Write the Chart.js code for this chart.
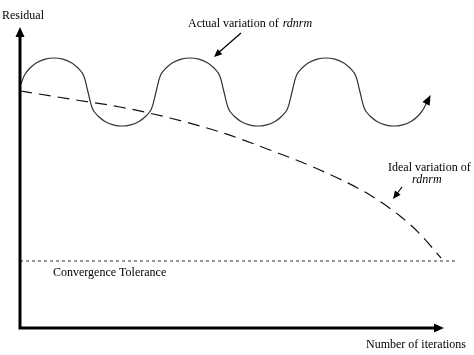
<!DOCTYPE html>
<html><head><meta charset="utf-8">
<script src="https://cdn.jsdelivr.net/npm/chart.js@4/dist/chart.umd.min.js"></script>
<style>html,body{margin:0;padding:0;background:#fff}canvas{display:block}</style>
</head><body>
<canvas id="c" width="474" height="355"></canvas>
<script>
// Data units: x = iterations (arbitrary), y = residual (arbitrary)
const waveX = [1,4.6,10,17,25.2,34,42.8,51,58,63.4,68,
  72.6,78,85,93.2,102,110.8,119,126,131.4,136,
  140.6,146,153,161.2,170,178.8,187,194,199.4,204,
  208.6,214,221,229.2,238,246.8,255,262,267.4,272,
  276.6,282,289,297.2,306,314.8,323,330,335.4,340,
  344.6,350,357,365.2,374,382.8,391,398,403.4,406.5];
const waveY = [244,253,260,265.4,268.8,270,268.8,265.4,260,253,236,
  219,212,206.6,203.2,202,203.2,206.6,212,219,236,
  253,260,265.4,268.8,270,268.8,265.4,260,253,236,
  219,212,206.6,203.2,202,203.2,206.6,212,219,236,
  253,260,265.4,268.8,270,268.8,265.4,260,253,236,
  219,212,206.6,203.2,202,203.2,206.6,212,219,225];
const idealX = [0,50,100,150,200,250,300,350,380,400,421];
const idealY = [237,229,221,210,196,178,158,133,112,94,70];
const tolX = [0,438];
const tolY = [67,67];
const axisTitles = ['Residual','Number of iterations'];
const labels = ['Actual variation of ','rdnrm','Ideal variation of','Convergence Tolerance'];

const toPts = (xs, ys) => xs.map((x,i)=>({x, y: ys[i]}));

const SERIF = '"Liberation Serif", "DejaVu Serif", serif';

function tri(ctx, tx, ty, dx, dy, len, half){
  const L = Math.hypot(dx,dy); dx/=L; dy/=L;
  const bx = tx - dx*len, by = ty - dy*len;
  ctx.beginPath();
  ctx.moveTo(tx,ty);
  ctx.lineTo(bx - dy*half, by + dx*half);
  ctx.lineTo(bx + dy*half, by - dx*half);
  ctx.closePath(); ctx.fill();
}

const deco = {
  id: 'deco',
  afterDatasetsDraw(chart){
    const ctx = chart.ctx;
    const xs = chart.scales.x, ys = chart.scales.y;
    const X = v => xs.getPixelForValue(v), Y = v => ys.getPixelForValue(v);
    ctx.save();
    ctx.fillStyle = '#000'; ctx.strokeStyle = '#000';
    // axes
    ctx.lineWidth = 3;
    ctx.beginPath();
    ctx.moveTo(X(0), Y(0)+1.5); ctx.lineTo(X(0), Y(292));
    ctx.moveTo(X(0)-1.5, Y(0)); ctx.lineTo(X(414), Y(0));
    ctx.stroke();
    tri(ctx, X(0), Y(301), 0, -1, 10, 4.5);
    tri(ctx, X(424), Y(0), 1, 0, 10, 4.5);
    // wave arrowhead
    const n = waveX.length;
    const ex = X(waveX[n-1]), ey = Y(waveY[n-1]);
    const px = X(waveX[n-2]), py = Y(waveY[n-2]);
    const dx = ex-px, dy = ey-py, L = Math.hypot(dx,dy);
    tri(ctx, ex + dx/L*9, ey + dy/L*9, dx, dy, 10, 4);
    // annotation arrows
    ctx.lineWidth = 1.2;
    ctx.beginPath();
    ctx.moveTo(X(221), Y(295)); ctx.lineTo(X(197), Y(274));
    ctx.moveTo(X(382), Y(141)); ctx.lineTo(X(376), Y(133));
    ctx.stroke();
    tri(ctx, X(194), Y(271), X(194)-X(221), Y(271)-Y(295), 8, 3.5);
    tri(ctx, X(373), Y(129), X(373)-X(382), Y(129)-Y(141), 8, 3.5);
    // texts
    ctx.textBaseline = 'alphabetic';
    ctx.textAlign = 'left';
    ctx.font = '12px ' + SERIF;
    ctx.fillText(axisTitles[0], X(-18), Y(309));
    ctx.fillText(axisTitles[1], X(346), Y(-20));
    ctx.fillText(labels[0], X(168), Y(301));
    const w = ctx.measureText(labels[0]).width;
    ctx.fillText(labels[2], X(368), Y(157));
    ctx.fillText(labels[3], X(33), Y(52));
    ctx.font = 'italic 12px ' + SERIF;
    ctx.fillText(labels[1], X(168)+w+1, Y(301));
    ctx.fillText(labels[1], X(392), Y(145));
    ctx.restore();
  }
};

new Chart(document.getElementById('c'), {
  type: 'scatter',
  data: {
    datasets: [
      { data: toPts(waveX, waveY), showLine: true, borderColor: '#333', borderWidth: 1.2,
        pointRadius: 0, tension: 0.4, fill: false },
      { data: toPts(idealX, idealY), showLine: true, borderColor: '#111', borderWidth: 1.2,
        borderDash: [12, 7], pointRadius: 0, cubicInterpolationMode: 'monotone', fill: false },
      { data: toPts(tolX, tolY), showLine: true, borderColor: '#333', borderWidth: 1,
        borderDash: [3, 3], pointRadius: 0, fill: false }
    ]
  },
  options: {
    responsive: false, animation: false, devicePixelRatio: 1,
    layout: { padding: 0 },
    plugins: { legend: { display: false }, tooltip: { enabled: false } },
    scales: {
      x: { type: 'linear', display: false, min: -20, max: 454 },
      y: { type: 'linear', display: false, min: -27, max: 328 }
    }
  },
  plugins: [deco]
});
</script>
</body></html>
